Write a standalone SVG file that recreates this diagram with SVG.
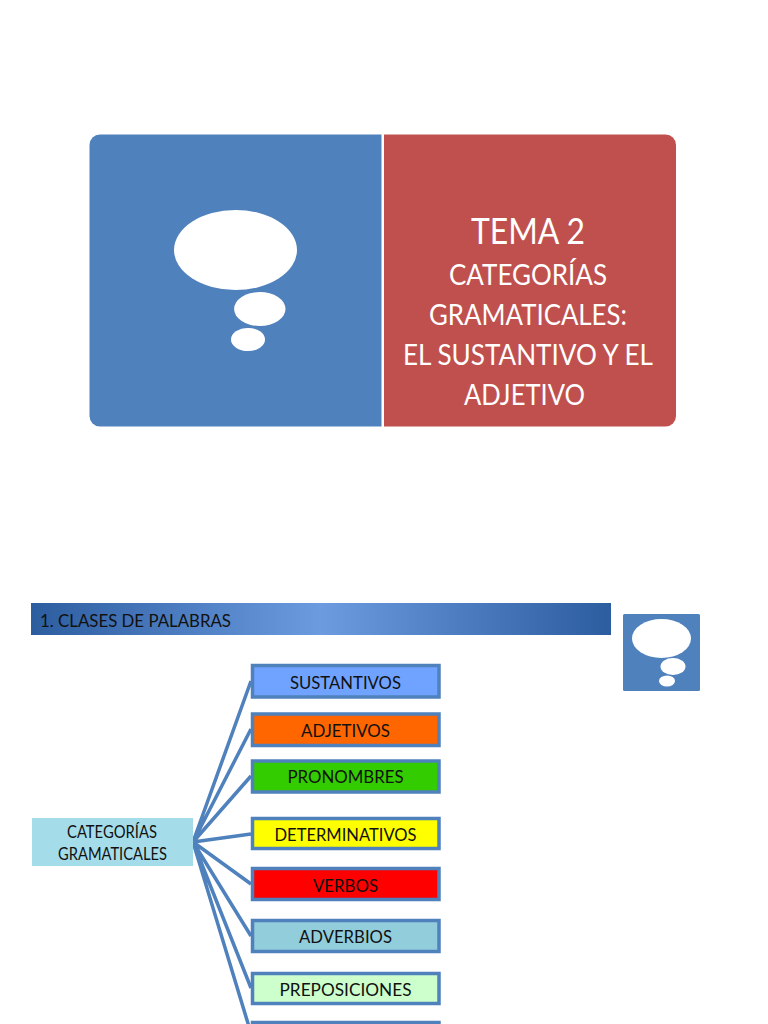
<svg xmlns="http://www.w3.org/2000/svg" width="768" height="1024" viewBox="0 0 768 1024">
<style>
text{font-family:"Lato","Open Sans","Liberation Sans",sans-serif;text-anchor:middle}
.t{fill:#fff;font-size:29px}
.b{fill:#111;font-size:17.500px}
.box{stroke:#4f81bd;stroke-width:3.500}
.bub{fill:#fff}
.blue{fill:#4f81bd}
.c{stroke:#4f81bd;stroke-width:3.500;fill:none}
</style>
<defs><linearGradient id="g"><stop offset="0" stop-color="#2c5d9f"/><stop offset=".5" stop-color="#6c9be0"/><stop offset="1" stop-color="#2c5d9f"/></linearGradient></defs>
<rect width="768" height="1024" fill="#fff"/>
<g id="panel-left">
<path class="blue" d="M381.500 134.500H100a10.500 10.500 0 0 0-10.500 10.500V416a10.500 10.500 0 0 0 10.500 10.500H381.500Z"/>
<ellipse class="bub" cx="235.500" cy="250" rx="61.500" ry="40"/>
<ellipse class="bub" cx="259.800" cy="309" rx="25.700" ry="17"/>
<ellipse class="bub" cx="248" cy="339.500" rx="17" ry="11.500"/>
</g>
<g id="panel-right">
<path fill="#c0504d" d="M384 134.500H665.500a10.500 10.500 0 0 1 10.500 10.500V416a10.500 10.500 0 0 1-10.500 10.500H384Z"/>
<text class="t" x="528" y="244" style="font-size:36px" textLength="114" lengthAdjust="spacingAndGlyphs">TEMA 2</text>
<text class="t" x="528" y="285" textLength="158" lengthAdjust="spacingAndGlyphs">CATEGORÍAS</text>
<text class="t" x="528" y="325" textLength="198" lengthAdjust="spacingAndGlyphs">GRAMATICALES:</text>
<text class="t" x="528" y="365" textLength="250" lengthAdjust="spacingAndGlyphs">EL SUSTANTIVO Y EL</text>
<text class="t" x="524.500" y="405" textLength="121" lengthAdjust="spacingAndGlyphs">ADJETIVO</text>
</g>
<g id="banner">
<rect x="31" y="603" width="580" height="32" fill="url(#g)"/>
<text class="b" x="40" y="626.500" style="text-anchor:start" textLength="191" lengthAdjust="spacingAndGlyphs">1. CLASES DE PALABRAS</text>
</g>
<g id="icon">
<rect class="blue" x="623" y="614" width="77" height="77" rx="1.500"/>
<ellipse class="bub" cx="661.500" cy="638.500" rx="29.500" ry="19.500"/>
<ellipse class="bub" cx="673" cy="666.500" rx="12.500" ry="8.500"/>
<ellipse class="bub" cx="667" cy="681" rx="8" ry="5.500"/>
</g>
<g id="connectors">
<path class="c" d="M193 842L251 681M193 842L251 729M193 842L251 776M193 842L251 834M193 842L251 884M193 842L251 936M193 842L251 988M193 842L250 1030"/>
</g>
<g id="hub">
<rect x="32" y="818" width="161" height="48" fill="#a5dcea"/>
<text class="b" style="font-size:16.500px" x="112" y="838" textLength="90" lengthAdjust="spacingAndGlyphs">CATEGORÍAS</text>
<text class="b" style="font-size:16.500px" x="112.500" y="859.500" textLength="109" lengthAdjust="spacingAndGlyphs">GRAMATICALES</text>
</g>
<g id="n1"><rect class="box" x="252.500" y="665.500" width="186.500" height="31.500" fill="#6fa3ff"/><text class="b" x="345.500" y="688.500" textLength="111" lengthAdjust="spacingAndGlyphs">SUSTANTIVOS</text></g>
<g id="n2"><rect class="box" x="252.500" y="714" width="186.500" height="31.500" fill="#ff6600"/><text class="b" x="345.500" y="736.500" textLength="89" lengthAdjust="spacingAndGlyphs">ADJETIVOS</text></g>
<g id="n3"><rect class="box" x="252.500" y="761" width="186.500" height="31" fill="#33cc00"/><text class="b" x="345.500" y="783" textLength="116" lengthAdjust="spacingAndGlyphs">PRONOMBRES</text></g>
<g id="n4"><rect class="box" x="252.500" y="818.500" width="186.500" height="30" fill="#ffff00"/><text class="b" x="345.500" y="841" textLength="142" lengthAdjust="spacingAndGlyphs">DETERMINATIVOS</text></g>
<g id="n5"><rect class="box" x="252.500" y="868.500" width="186.500" height="31" fill="#ff0000"/><text class="b" x="345.500" y="891.500" textLength="65" lengthAdjust="spacingAndGlyphs">VERBOS</text></g>
<g id="n6"><rect class="box" x="252.500" y="920.500" width="186.500" height="31" fill="#92cddc"/><text class="b" x="345.500" y="943" textLength="93" lengthAdjust="spacingAndGlyphs">ADVERBIOS</text></g>
<g id="n7"><rect class="box" x="252.500" y="973.500" width="186.500" height="30" fill="#ccffcc"/><text class="b" x="345.500" y="995.500" textLength="132" lengthAdjust="spacingAndGlyphs">PREPOSICIONES</text></g>
<g id="n8"><rect class="box" x="252.500" y="1022.500" width="186.500" height="30" fill="#fff"/></g>
</svg>
